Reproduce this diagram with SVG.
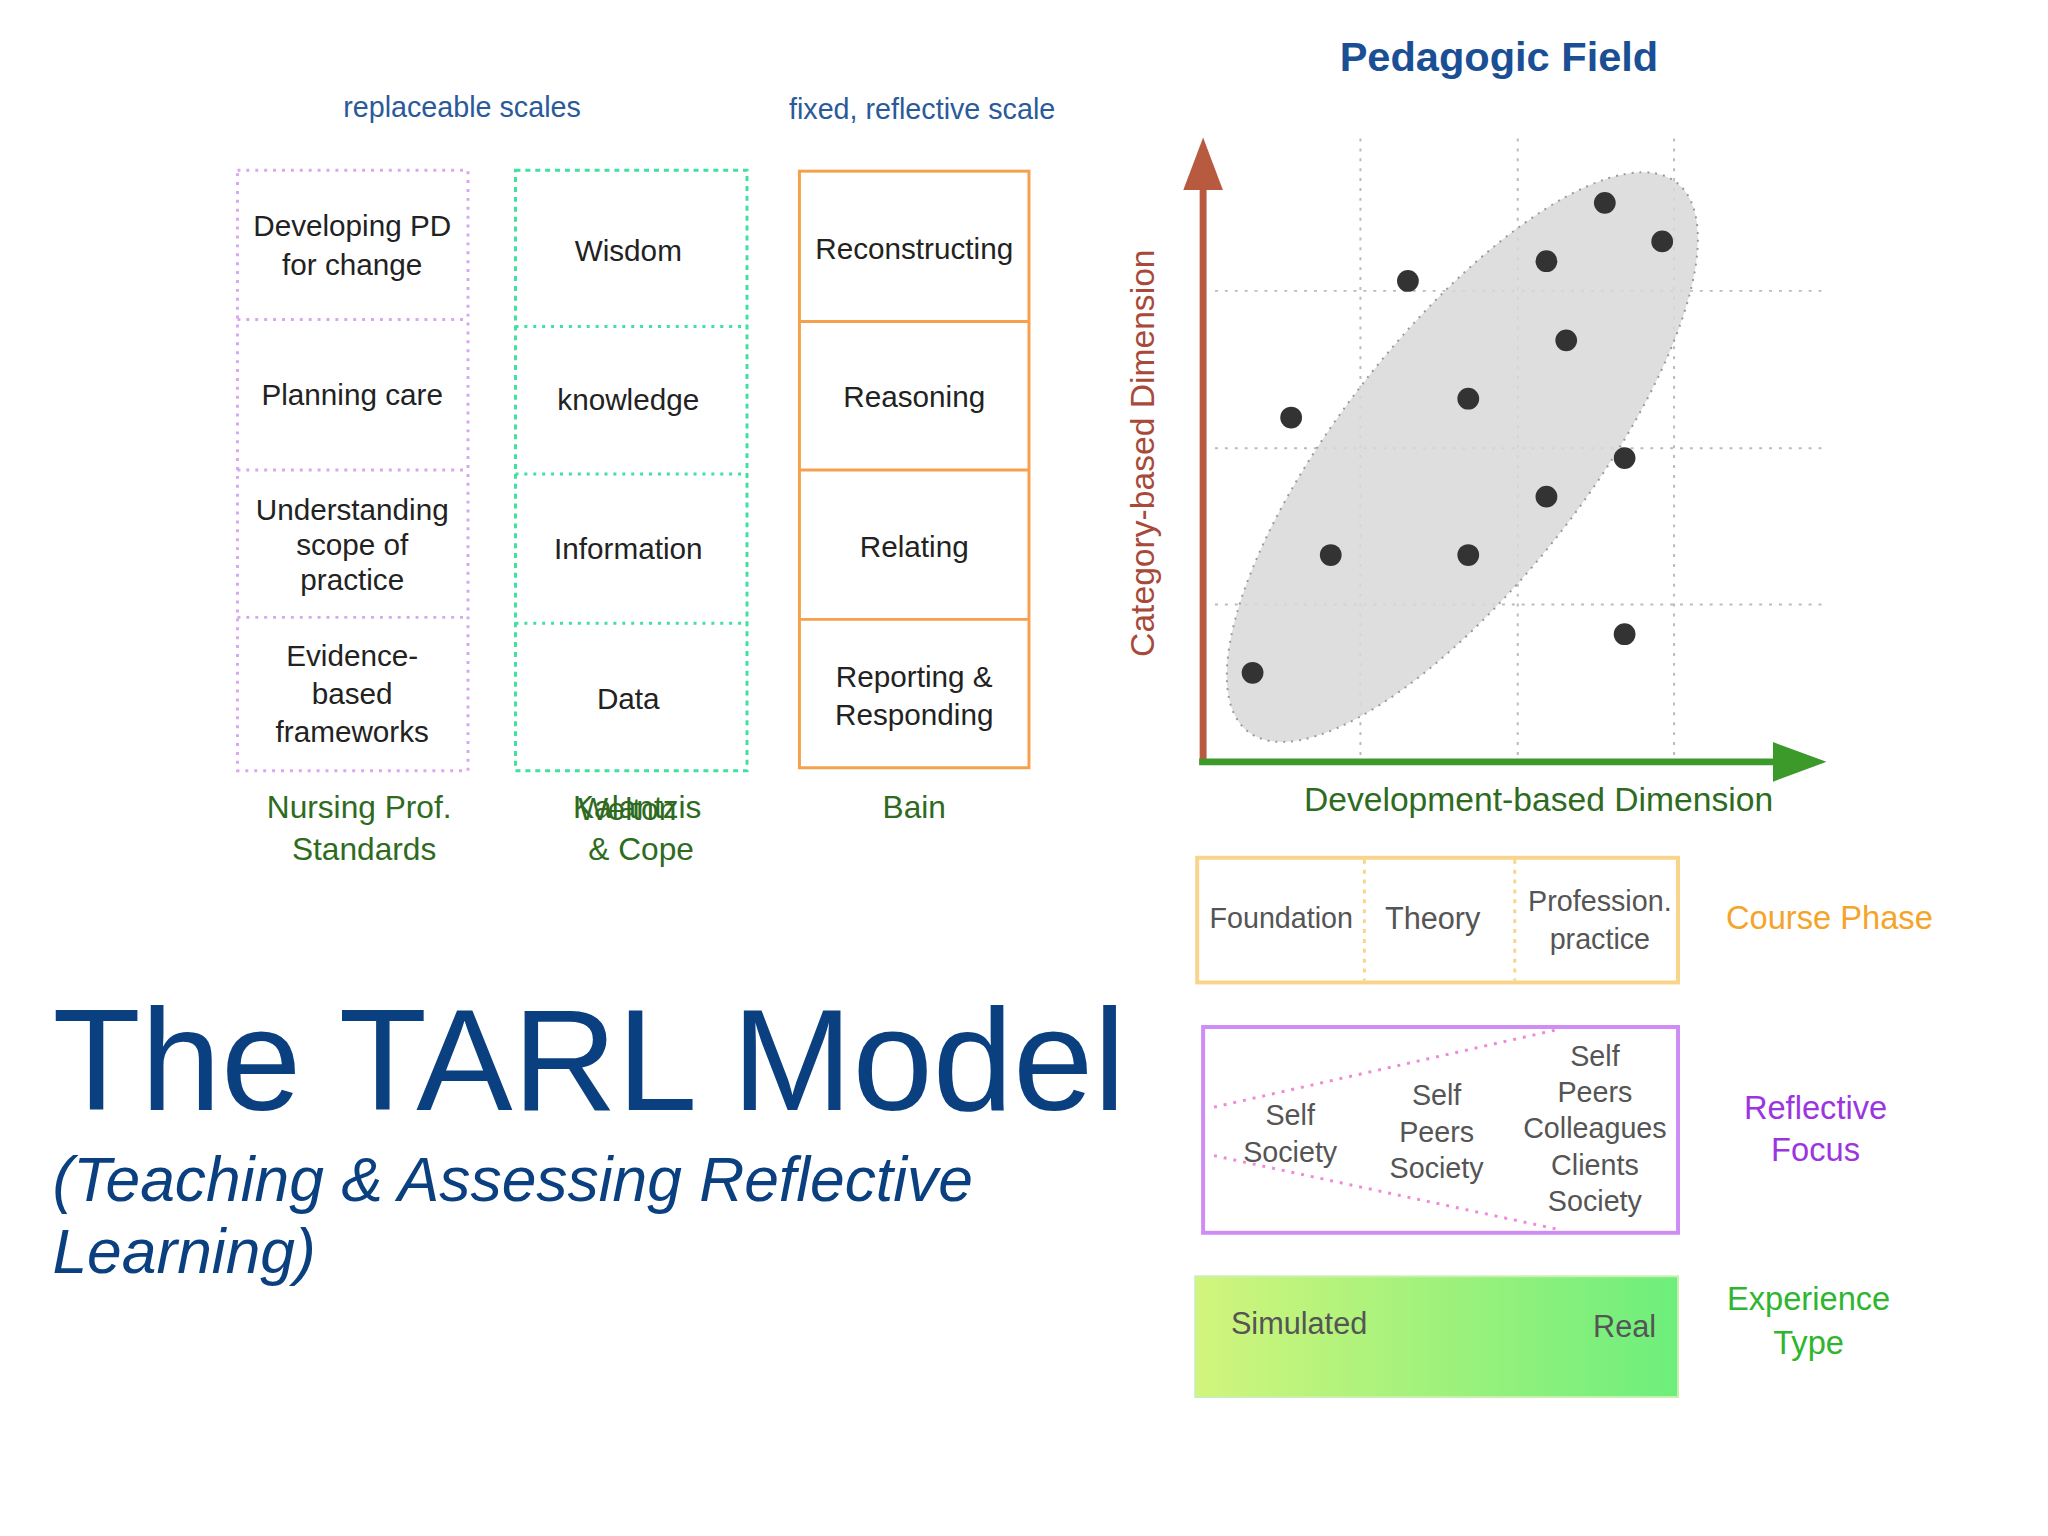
<svg xmlns="http://www.w3.org/2000/svg" width="2048" height="1536" viewBox="0 0 2048 1536">
<defs>
<style>
text{font-family:"Liberation Sans",Arial,sans-serif;dominant-baseline:central;text-anchor:middle}
.cell{font-size:30px;fill:#222}
.lbl{font-size:32px;fill:#2e6b1e}
.hdr{font-size:29px;fill:#2a5a9a}
.grid{stroke:#bbb;stroke-width:2;stroke-dasharray:3 7}
.dot{fill:#333}
.small{font-size:29px;fill:#555}
</style>
<linearGradient id="exp" x1="0" y1="0" x2="1" y2="0"><stop offset="0" stop-color="#d2f57c"/><stop offset="1" stop-color="#6dee7c"/></linearGradient>
</defs>
<rect width="2048" height="1536" fill="#fff"/>
<g transform="scale(0.9894)">
<g id="headers">
<text class="hdr" x="467" y="108">replaceable scales</text>
<text class="hdr" x="932" y="110">fixed, reflective scale</text>
<text x="1515" y="57" style="font-size:42px;font-weight:bold;fill:#1a4f96">Pedagogic Field</text>
</g>
<g id="col-nursing">
<rect x="240" y="172" width="233" height="607" fill="none" stroke="#d9a6f0" stroke-width="3" stroke-dasharray="3 6"/>
<path d="M240 323H473M240 475H473M240 624H473" stroke="#d9a6f0" stroke-width="3" stroke-dasharray="3 6"/>
<text class="cell" x="356" y="228">Developing PD</text><text class="cell" x="356" y="267">for change</text>
<text class="cell" x="356" y="399">Planning care</text>
<text class="cell" x="356" y="515">Understanding</text><text class="cell" x="356" y="550">scope of</text><text class="cell" x="356" y="586">practice</text>
<text class="cell" x="356" y="663">Evidence-</text><text class="cell" x="356" y="701">based</text><text class="cell" x="356" y="739">frameworks</text>
<text class="lbl" x="363" y="816">Nursing Prof.</text><text class="lbl" x="368" y="858">Standards</text>
</g>
<g id="col-kalantzis">
<rect x="521" y="172" width="234" height="607" fill="none" stroke="#3fe0a0" stroke-width="3" stroke-dasharray="5 5"/>
<path d="M521 330H755M521 479H755M521 630H755" stroke="#3fe0a0" stroke-width="3" stroke-dasharray="3 6"/>
<text class="cell" x="635" y="253">Wisdom</text>
<text class="cell" x="635" y="404">knowledge</text>
<text class="cell" x="635" y="554">Information</text>
<text class="cell" x="635" y="706">Data</text>
<text class="lbl" x="644" y="816">Kalantzis</text><text class="lbl" x="634" y="818">Welton</text><text class="lbl" x="648" y="858">&amp; Cope</text>
</g>
<g id="col-bain">
<rect x="808" y="173" width="232" height="603" fill="none" stroke="#f5a04a" stroke-width="3"/>
<path d="M808 325H1040M808 475H1040M808 626H1040" stroke="#f5a04a" stroke-width="3"/>
<text class="cell" x="924" y="251">Reconstructing</text>
<text class="cell" x="924" y="401">Reasoning</text>
<text class="cell" x="924" y="552">Relating</text>
<text class="cell" x="924" y="684">Reporting &amp;</text><text class="cell" x="924" y="722">Responding</text>
<text class="lbl" x="924" y="816">Bain</text>
</g>
<g id="chart">
<path class="grid" d="M1375 140V770M1534 140V770M1692 140V770M1228 294H1845M1228 453H1845M1228 611H1845"/>
<ellipse cx="1478" cy="462" rx="352" ry="125" transform="rotate(-52 1478 462)" fill="#d8d8d8" fill-opacity="0.85" stroke="#999" stroke-width="2" stroke-dasharray="2 6"/>
<g class="dots">
<circle class="dot" cx="1622" cy="205" r="11"/><circle class="dot" cx="1680" cy="244" r="11"/><circle class="dot" cx="1423" cy="284" r="11"/><circle class="dot" cx="1563" cy="264" r="11"/><circle class="dot" cx="1583" cy="344" r="11"/><circle class="dot" cx="1305" cy="422" r="11"/><circle class="dot" cx="1484" cy="403" r="11"/><circle class="dot" cx="1642" cy="463" r="11"/><circle class="dot" cx="1563" cy="502" r="11"/><circle class="dot" cx="1345" cy="561" r="11"/><circle class="dot" cx="1484" cy="561" r="11"/><circle class="dot" cx="1642" cy="641" r="11"/><circle class="dot" cx="1266" cy="680" r="11"/>
</g>
</g>
<g id="connectors">
<path d="M1216 772V185" stroke="#b85a40" stroke-width="7"/>
<polygon points="1216,139 1196,192 1236,192" fill="#b85a40"/>
<path d="M1212 770H1800" stroke="#3c9a2a" stroke-width="7"/>
<polygon points="1846,770 1792,750 1792,790" fill="#3c9a2a"/>
<path d="M1227 1119L1577 1040M1227 1168L1577 1243" stroke="#f08ad8" stroke-width="3" stroke-dasharray="3 7"/>
</g>
<g id="axis-labels">
<text x="1155" y="458" transform="rotate(-90 1155 458)" style="font-size:34px;fill:#a8493a">Category-based Dimension</text>
<text x="1555" y="808" style="font-size:34px;fill:#2e6b1e">Development-based Dimension</text>
</g>
<g id="course-phase">
<rect x="1210" y="867" width="486" height="126" fill="#fff" stroke="#f8d58a" stroke-width="4"/>
<path d="M1379 869V991M1531 869V991" stroke="#f8d58a" stroke-width="3" stroke-dasharray="4 6"/>
<text class="small" x="1295" y="928">Foundation</text>
<text class="small" x="1448" y="928" style="font-size:31px">Theory</text>
<text class="small" x="1617" y="911">Profession.</text><text class="small" x="1617" y="949">practice</text>
<text x="1849" y="927" style="font-size:33px;fill:#f5a42a">Course Phase</text>
</g>
<g id="reflective-focus">
<rect x="1216" y="1038" width="480" height="208" fill="none" stroke="#cf8cf5" stroke-width="4"/>
<text class="small" x="1304" y="1127">Self</text><text class="small" x="1304" y="1164">Society</text>
<text class="small" x="1452" y="1107">Self</text><text class="small" x="1452" y="1144">Peers</text><text class="small" x="1452" y="1181">Society</text>
<text class="small" x="1612" y="1067">Self</text><text class="small" x="1612" y="1104">Peers</text><text class="small" x="1612" y="1140">Colleagues</text><text class="small" x="1612" y="1177">Clients</text><text class="small" x="1612" y="1214">Society</text>
<text x="1835" y="1119" style="font-size:33px;fill:#9b35e0">Reflective</text><text x="1835" y="1162" style="font-size:33px;fill:#9b35e0">Focus</text>
</g>
<g id="experience-type">
<rect x="1208" y="1290" width="488" height="122" fill="url(#exp)" stroke="#c8f0b0" stroke-width="2"/>
<text x="1313" y="1337" style="font-size:31px;fill:#555">Simulated</text>
<text x="1642" y="1340" style="font-size:31px;fill:#555">Real</text>
<text x="1828" y="1312" style="font-size:33px;fill:#2fb52f">Experience</text><text x="1828" y="1357" style="font-size:33px;fill:#2fb52f">Type</text>
</g>
<g id="title">
<text x="53" y="1122" style="font-size:146px;fill:#0b4080;text-anchor:start;dominant-baseline:auto">The TARL Model</text>
<text x="53" y="1214" style="font-size:63px;font-style:italic;fill:#0b4080;text-anchor:start;dominant-baseline:auto">(Teaching &amp; Assessing Reflective</text>
<text x="53" y="1287" style="font-size:63px;font-style:italic;fill:#0b4080;text-anchor:start;dominant-baseline:auto">Learning)</text>
</g>
</g>
</svg>
